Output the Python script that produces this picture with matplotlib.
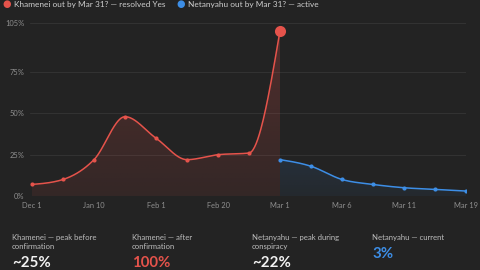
import numpy as np
import matplotlib
matplotlib.use("Agg")
import matplotlib.pyplot as plt
from matplotlib.path import Path
from matplotlib.patches import PathPatch
from matplotlib.colors import to_rgb

# ---- data ----
categories = ["Dec 1", "Dec 20", "Jan 10", "Jan 20", "Feb 1", "Feb 10", "Feb 20", "Feb 25",
              "Mar 1", "Mar 3", "Mar 6", "Mar 8", "Mar 11", "Mar 15", "Mar 19"]
khamenei_values = [7, 10, 22, 48, 35, 22, 25, 26, 100]          # indices 0..8
netanyahu_values = [22, 18, 10, 7, 5, 4, 3]                      # indices 8..14
shown_ticks = ["Dec 1", "Jan 10", "Feb 1", "Feb 20", "Mar 1", "Mar 6", "Mar 11", "Mar 19"]
y_ticks = [0, 25, 50, 75, 105]
legend_labels = ["Khamenei out by Mar 31? — resolved Yes", "Netanyahu out by Mar 31? — active"]
stat_labels = ["Khamenei — peak before\nconfirmation", "Khamenei — after\nconfirmation",
               "Netanyahu — peak during\nconspiracy", "Netanyahu — current"]
stat_values = ["~25%", "100%", "~22%", "3%"]

BG = "#232323"
RED = "#e5534b"
BLUE = "#3d8ee6"
GRID = "#353535"
TICK = "#8f8f8f"

plt.rcParams['font.family'] = ['Lato', 'DejaVu Sans']


def monotone(xs, ys, n=40):
    xs = np.asarray(xs, float); ys = np.asarray(ys, float)
    k = len(xs)
    h = np.diff(xs); s = np.diff(ys) / h
    t = np.zeros(k)
    for i in range(1, k - 1):
        s0, s1 = s[i - 1], s[i]
        p = (s0 * h[i] + s1 * h[i - 1]) / (h[i - 1] + h[i])
        t[i] = (np.sign(s0) + np.sign(s1)) * min(abs(s0), abs(s1), 0.5 * abs(p))
    t[0] = (3 * s[0] - t[1]) / 2
    t[-1] = (3 * s[-1] - t[-2]) / 2
    X, Y = [], []
    for i in range(k - 1):
        u = np.linspace(0, 1, n, endpoint=(i == k - 2))
        dx = h[i]
        p0, p3 = ys[i], ys[i + 1]
        p1 = p0 + dx * t[i] / 3
        p2 = p3 - dx * t[i + 1] / 3
        X.append(xs[i] + dx * u)
        Y.append((1 - u) ** 3 * p0 + 3 * (1 - u) ** 2 * u * p1 + 3 * (1 - u) * u ** 2 * p2 + u ** 3 * p3)
    return np.concatenate(X), np.concatenate(Y)


fig = plt.figure(figsize=(4.8, 2.7), dpi=100, facecolor=BG)
ax = fig.add_axes([30 / 480, 1 - 196 / 270, 436 / 480, (196 - 22.5) / 270])
ax.set_facecolor(BG)
for sp in ax.spines.values():
    sp.set_visible(False)
ax.set_yticks(y_ticks)
ax.set_yticklabels([f"{v}%" for v in y_ticks])
ax.grid(axis='y', color=GRID, linewidth=0.6)
ax.set_axisbelow(True)
idx_shown = [categories.index(c) for c in shown_ticks]
ax.set_xticks(idx_shown)
ax.set_xticklabels(shown_ticks)
ax.tick_params(axis='both', length=0, colors=TICK, labelsize=5.4)
ax.tick_params(axis='y', pad=4)
ax.tick_params(axis='x', pad=4)


def draw_series(x_idx, vals, color, a_top, a_bot):
    xs, ys = monotone(x_idx, vals)
    verts = list(zip(xs, ys)) + [(xs[-1], 0), (xs[0], 0)]
    path = Path(verts + [verts[0]], [Path.MOVETO] + [Path.LINETO] * (len(verts) - 1) + [Path.CLOSEPOLY])
    patch = PathPatch(path, facecolor='none', edgecolor='none')
    ax.add_patch(patch)
    r, g, b = to_rgb(color)
    grad = np.zeros((100, 2, 4))
    grad[..., 0], grad[..., 1], grad[..., 2] = r, g, b
    alphas = np.linspace(a_top, a_bot, 100)
    grad[..., 3] = alphas[:, None]
    im = ax.imshow(grad, extent=(xs[0], xs[-1], 0, max(vals)), origin='upper',
                   aspect='auto', zorder=1, interpolation='bilinear')
    im.set_clip_path(patch)
    ax.plot(xs, ys, color=color, linewidth=1.1, zorder=3, solid_capstyle='round')
    ax.plot(x_idx, vals, 'o', color=color, markersize=3, zorder=4, markeredgewidth=0)


k_idx = list(range(len(khamenei_values)))
n_idx = list(range(8, 8 + len(netanyahu_values)))
draw_series(k_idx, khamenei_values, RED, 0.24, 0.09)
draw_series(n_idx, netanyahu_values, BLUE, 0.12, 0.06)
ax.plot([k_idx[-1]], [khamenei_values[-1]], 'o', color=RED, markersize=8, zorder=5, markeredgewidth=0)
ax.set_xlim(-0.065, 14.0)
ax.set_ylim(0, 105)

# legend
fig.text(7 / 480, 1 - 4.5 / 270, "●", color=RED, fontsize=7, ha='center', va='center', family='DejaVu Sans')
fig.text(14 / 480, 1 - 4.5 / 270, legend_labels[0], color="#cfcfcf", fontsize=5.95, ha='left', va='center')
fig.text(181 / 480, 1 - 4.5 / 270, "●", color=BLUE, fontsize=7, ha='center', va='center', family='DejaVu Sans')
fig.text(188 / 480, 1 - 4.5 / 270, legend_labels[1], color="#cfcfcf", fontsize=5.95, ha='left', va='center')

# stat cards
card_x = [12, 132, 252, 372]
val_colors = ["#f2f2f2", RED, "#f2f2f2", BLUE]
for i in range(4):
    fig.text(card_x[i] / 480, 1 - 234 / 270, stat_labels[i], color="#bdbdbd", fontsize=5.6,
             ha='left', va='top', linespacing=1.3)
    nlines = stat_labels[i].count("\n") + 1
    vy = 267 if nlines == 2 else 258
    fig.text(card_x[i] / 480, 1 - vy / 270, stat_values[i], color=val_colors[i], fontsize=10.8,
             ha='left', va='baseline', fontweight='bold')

fig.savefig("out.png", dpi=100, facecolor=BG)
